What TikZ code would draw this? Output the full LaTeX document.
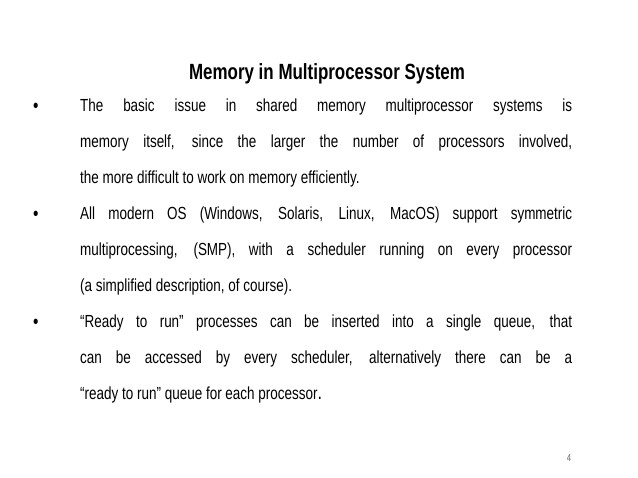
\documentclass[tikz,border=0pt]{standalone}
\usepackage{fontspec}
\setmainfont[FakeStretch=0.77]{Liberation Sans}
\begin{document}
\begin{tikzpicture}[x=1pt,y=-1pt,
  ln/.style={anchor=base west,inner sep=0pt,font=\fontsize{17.5}{20}\selectfont},
  bul/.style={anchor=base west,inner sep=0pt,font=\fontsize{20}{20}\selectfont}]
\useasboundingbox (0,0) rectangle (638,478);
\node[anchor=base,inner sep=0pt,font=\fontsize{22}{24}\selectfont\bfseries] (title) at (327,80) {Memory in Multiprocessor System};
\node[bul] (b1) at (33,113) {•};
\node[ln] (l1) at (80,112) {\makebox[492pt][s]{The basic issue in shared memory multiprocessor systems is}};
\node[ln] (l2) at (80,148) {\makebox[492pt][s]{memory itself, since the larger the number of processors involved,}};
\node[ln] (l3) at (80,184) {the more difficult to work on memory efficiently.};
\node[bul] (b2) at (33,221) {•};
\node[ln] (l4) at (80,220) {\makebox[492pt][s]{All modern OS (Windows, Solaris, Linux, MacOS) support symmetric}};
\node[ln] (l5) at (80,256) {\makebox[492pt][s]{multiprocessing, (SMP), with a scheduler running on every processor}};
\node[ln] (l6) at (80,292) {(a simplified description, of course).};
\node[bul] (b3) at (33,329) {•};
\node[ln] (l7) at (80,328) {\makebox[492pt][s]{“Ready to run” processes can be inserted into a single queue, that}};
\node[ln] (l8) at (80,364) {\makebox[492pt][s]{can be accessed by every scheduler, alternatively there can be a}};
\node[ln] (l9) at (80,400) {“ready to run” queue for each processor\fontsize{21}{22}\selectfont.};
\node[anchor=base,inner sep=0pt,font=\fontsize{10}{10}\selectfont,text=black!60] (pg) at (569,462) {4};
\end{tikzpicture}
\end{document}
